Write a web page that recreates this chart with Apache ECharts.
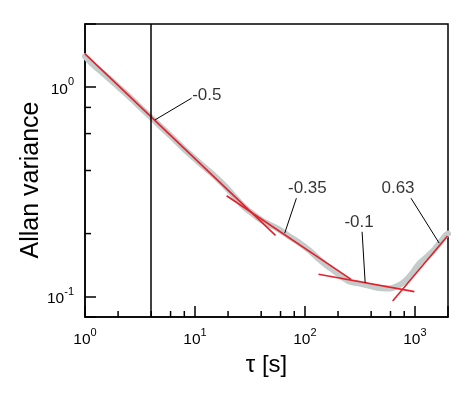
<!DOCTYPE html>
<html>
<head>
<meta charset="utf-8">
<style>
html,body{margin:0;padding:0;background:#fff;}
#chart{width:474px;height:394px;}
</style>
<script src="https://cdn.jsdelivr.net/npm/echarts@6/dist/echarts.min.js"></script>
</head>
<body>
<div id="chart"></div>
<script>
// ---- data ----
const tau = [1, 1.2, 1.5, 2, 2.5, 3, 4, 5, 6, 8, 10, 12, 14, 17, 20, 24, 28, 33, 40, 48, 56, 70, 90, 110, 136, 160, 180, 210, 254, 300, 360, 430, 510, 600, 673, 750, 831, 950, 1097, 1250, 1445, 1700, 1914, 2000];
const allanVar = [1.40, 1.27, 1.15, 1.005, 0.905, 0.825, 0.715, 0.64, 0.585, 0.505, 0.455, 0.418, 0.39, 0.355, 0.325, 0.292, 0.268, 0.25, 0.232, 0.22, 0.212, 0.196, 0.18, 0.166, 0.15, 0.14, 0.134, 0.126, 0.118, 0.116, 0.1136, 0.111, 0.1097, 0.1095, 0.1117, 0.115, 0.12, 0.13, 0.144, 0.153, 0.164, 0.182, 0.197, 0.2];

// fitted slope segments: [x0, y0, x1, y1]
const fitSlopeA = [1, 1.44, 54, 0.196];       // -0.5
const fitSlopeB = [19.4, 0.303, 263, 0.121];  // -0.35
const fitSlopeC = [133, 0.128, 989, 0.1057];  // -0.1
const fitSlopeD = [628, 0.0953, 1980, 0.195]; // 0.63

// annotations: leader line [x0, y0, x1, y1] and label text
const annotationLabels = ['-0.5', '-0.35', '-0.1', '0.63'];
const leaderA = [4.34, 0.698, 9.33, 0.886];
const leaderB = [65.5, 0.201, 83.6, 0.295];
const leaderC = [353, 0.1166, 331, 0.204];
const leaderD = [1664, 0.18, 922, 0.295];

const markerTau = 4;
const xRange = [1, 2000];
const yRange = [0.08, 2];
const xMinorTicks = [2, 4, 6, 8, 20, 40, 60, 80, 200, 400, 600, 800];
const yMinorTicks = [0.2, 0.4, 0.6, 0.8];
const xTitle = 'τ [s]';
const yTitle = 'Allan variance';

// ---- chart ----
const FONT = '"Liberation Sans", Arial, Helvetica, sans-serif';
const chart = echarts.init(document.getElementById('chart'), null, {renderer: 'canvas'});

function powLabel(v) {
  const e = Math.log10(v);
  const r = Math.round(e);
  if (Math.abs(e - r) > 1e-6) return '';
  return '{b|10}{s|' + r + '}';
}
const richLbl = {
  b: {fontSize: 15.5, fontFamily: FONT, color: '#000', lineHeight: 21, verticalAlign: 'bottom'},
  s: {fontSize: 11, fontFamily: FONT, color: '#000', lineHeight: 11, verticalAlign: 'top'}
};

const seg = (a) => [[a[0], a[1]], [a[2], a[3]]];
const redStyle = {color: '#e3202a', width: 1.6};

function leaderSeries(a) {
  return {
    type: 'line', data: [[a[0], a[1]], [a[2], a[3]]],
    symbol: 'none', silent: true, z: 6,
    lineStyle: {color: '#000', width: 1}
  };
}
function labelSeries(a, text, pos, dist, offset) {
  return {
    type: 'scatter', silent: true, z: 7,
    symbol: 'circle', symbolSize: 1, itemStyle: {color: 'rgba(0,0,0,0)'},
    data: [[a[2], a[3]]],
    label: {
      show: true, formatter: text, position: pos, distance: dist, offset: offset,
      fontSize: 17, fontFamily: FONT, color: '#000'
    }
  };
}

const option = {
  animation: false,
  grid: {left: 85, right: 26, top: 24, bottom: 77, show: true, borderColor: '#000', borderWidth: 1.5, backgroundColor: 'transparent'},
  graphic: [{
    type: 'text', x: 31, y: 180, rotation: Math.PI / 2, silent: true,
    style: {text: yTitle, font: '25px ' + FONT, fill: '#000', align: 'center', verticalAlign: 'middle'}
  }],
  xAxis: {
    type: 'log', logBase: 10, min: xRange[0], max: xRange[1],
    name: xTitle, nameLocation: 'middle', nameGap: 28,
    nameTextStyle: {fontSize: 24, fontFamily: FONT, color: '#000'},
    axisLine: {show: true, lineStyle: {color: '#000', width: 1.5}},
    axisTick: {show: true, inside: true, length: 11, lineStyle: {color: '#000', width: 1.5}},
    axisLabel: {formatter: powLabel, rich: richLbl, margin: 10, showMinLabel: true, showMaxLabel: true, hideOverlap: false},
    splitLine: {show: false}, minorTick: {show: false}
  },
  yAxis: {
    type: 'log', logBase: 10, min: yRange[0], max: yRange[1],
    axisLine: {show: true, lineStyle: {color: '#000', width: 1.5}},
    axisTick: {show: true, inside: true, length: 11, lineStyle: {color: '#000', width: 1.5}},
    axisLabel: {formatter: powLabel, rich: richLbl, margin: 11, hideOverlap: false},
    splitLine: {show: false}, minorTick: {show: false}
  },
  series: [
    {
      type: 'line', data: tau.map((t, i) => [t, allanVar[i]]),
      symbol: 'none', smooth: 0.3, z: 2, silent: true,
      lineStyle: {color: '#c3cbcb', width: 6, cap: 'round', join: 'round'},
      markLine: {
        symbol: 'none', silent: true, label: {show: false}, animation: false,
        lineStyle: {color: '#000', width: 1.5, type: 'solid'},
        data: [{xAxis: markerTau}]
      }
    },
    {type: 'line', data: seg(fitSlopeA), symbol: 'none', z: 4, silent: true, lineStyle: redStyle},
    {type: 'line', data: seg(fitSlopeB), symbol: 'none', z: 4, silent: true, lineStyle: redStyle},
    {type: 'line', data: seg(fitSlopeC), symbol: 'none', z: 4, silent: true, lineStyle: redStyle},
    {type: 'line', data: seg(fitSlopeD), symbol: 'none', z: 4, silent: true, lineStyle: redStyle},
    leaderSeries(leaderA), leaderSeries(leaderB), leaderSeries(leaderC), leaderSeries(leaderD),
    labelSeries(leaderA, annotationLabels[0], 'right', 0, [0, -3]),
    labelSeries(leaderB, annotationLabels[1], 'top', 1, [11, 0]),
    labelSeries(leaderC, annotationLabels[2], 'top', 0, [-3, 0]),
    labelSeries(leaderD, annotationLabels[3], 'top', 1, [-13, 0]),
    {
      type: 'custom', silent: true, z: 5, clip: false,
      data: xMinorTicks.map(v => [v]),
      renderItem: function (params, api) {
        const p = api.coord([api.value(0), yRange[0]]);
        return {type: 'line', shape: {x1: p[0], y1: p[1], x2: p[0], y2: p[1] - 6},
          style: {stroke: '#000', lineWidth: 1.5}};
      }
    },
    {
      type: 'custom', silent: true, z: 5, clip: false,
      data: yMinorTicks.map(v => [v]),
      renderItem: function (params, api) {
        const p = api.coord([xRange[0], api.value(0)]);
        return {type: 'line', shape: {x1: p[0], y1: p[1], x2: p[0] + 6, y2: p[1]},
          style: {stroke: '#000', lineWidth: 1.5}};
      }
    }
  ]
};
chart.setOption(option);
</script>
</body>
</html>
